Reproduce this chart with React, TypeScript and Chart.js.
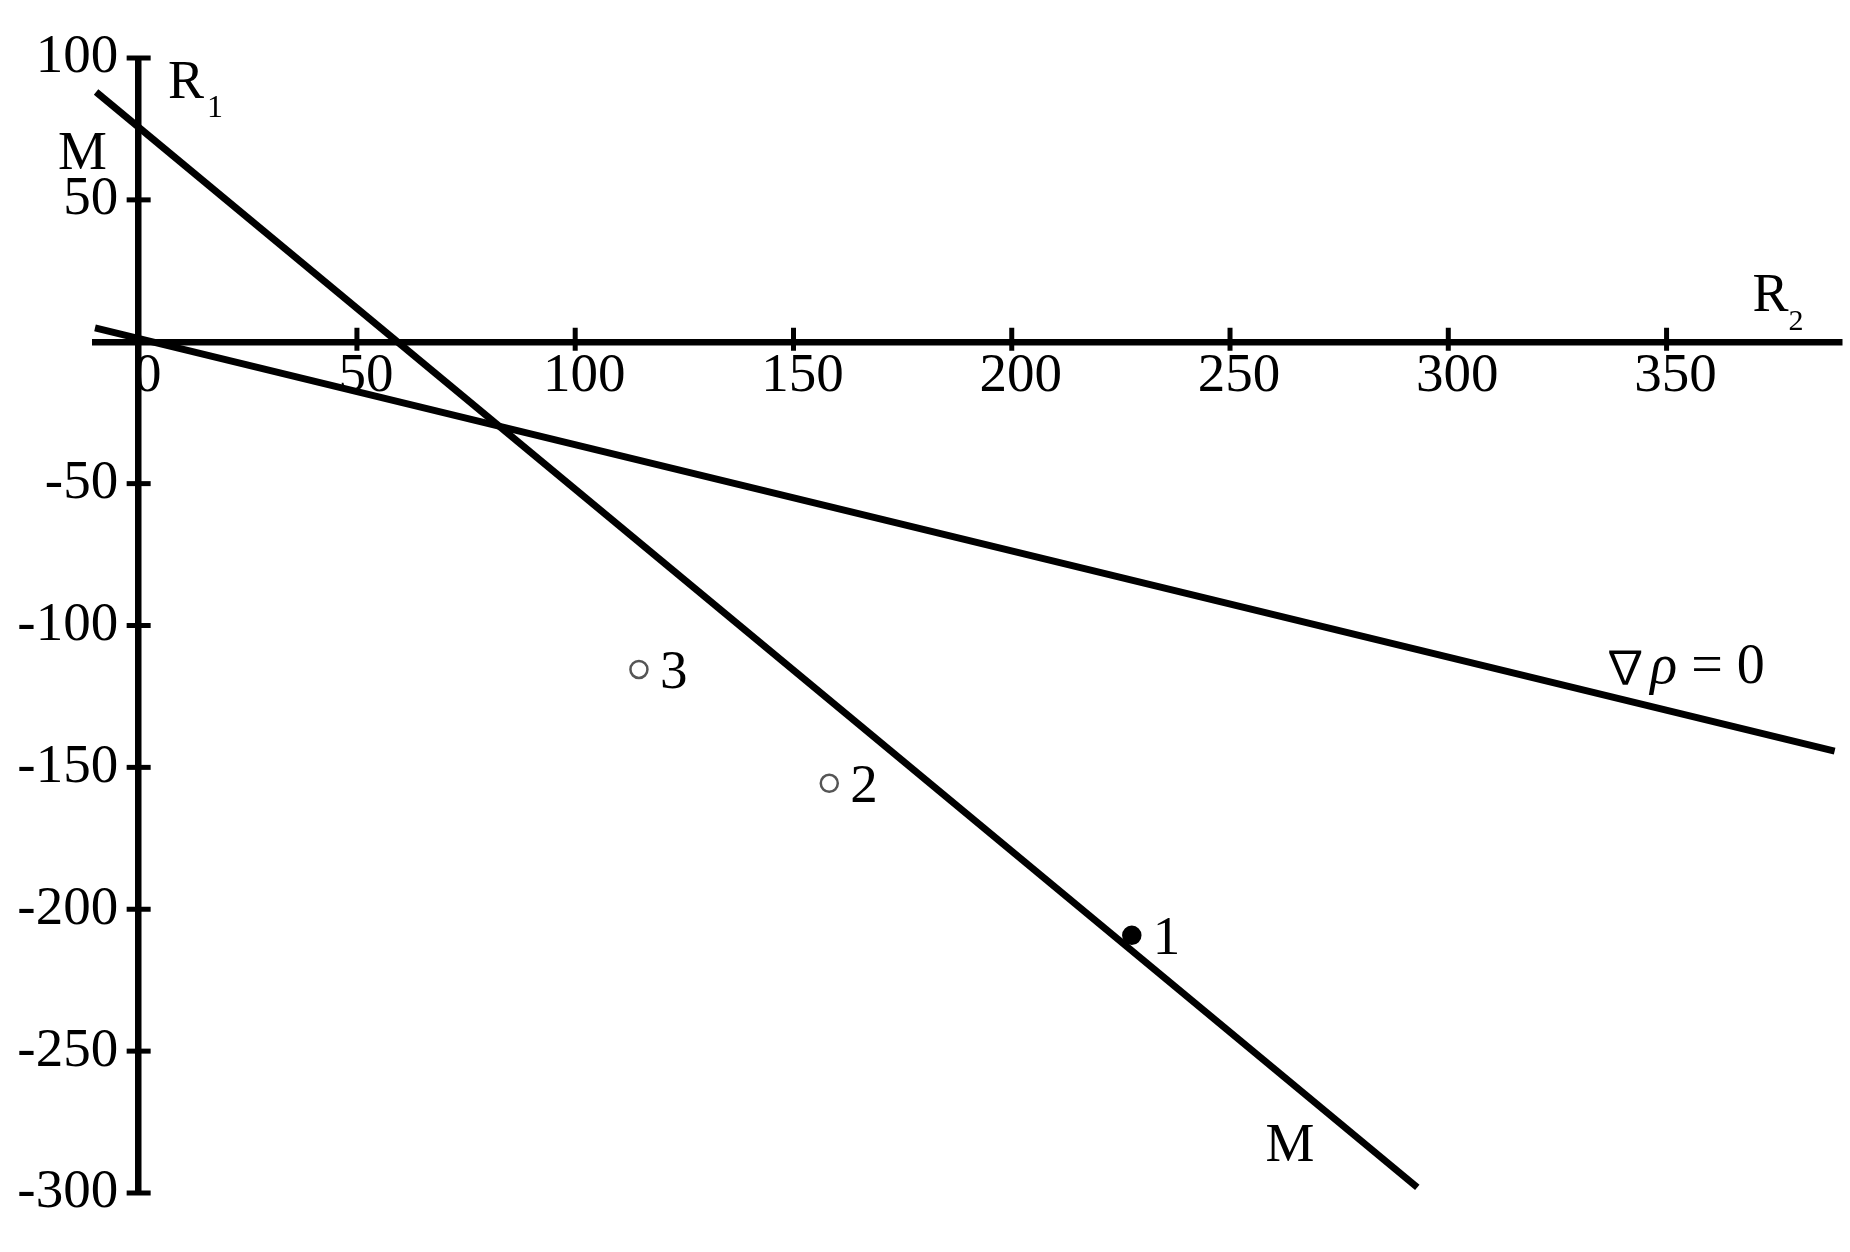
import React, { useEffect, useRef } from 'react';
import { Chart, registerables } from 'chart.js';

Chart.register(...registerables);

// ---- data ----
const xTicks = [0, 50, 100, 150, 200, 250, 300, 350];
const yTicks = [100, 50, -50, -100, -150, -200, -250, -300];

// line "M"
const mLineR2 = [-9.75, 292.9];
const mLineR1 = [88.0, -298.0];

// line "∇ρ = 0"
const gradLineR2 = [-10, 388.5];
const gradLineR1 = [4.9, -144.3];

// numbered points
const pointR2 = [227.5, 158.2, 114.6];
const pointR1 = [-209.2, -155.6, -115.5];
const pointLabels = ['1', '2', '3'];
const pointFilled = [true, false, false];

const SERIF = '"Liberation Serif", "Times New Roman", "DejaVu Serif", serif';
const NABLA_FONT = '"Noto Sans CJK JP", "DejaVu Sans", sans-serif';

type Part = { text: string; size: number; italic?: boolean; dx?: number; dy?: number; family?: string };
type Annotation = { x: number; y: number; parts: Part[] };

// free text labels, anchored in data coordinates (left edge, baseline)
const annotations: Annotation[] = [
  { x: -18.45, y: 61.0, parts: [{ text: 'M', size: 55 }] },
  { x: 258.1, y: -288.8, parts: [{ text: 'M', size: 55 }] },
  { x: 6.7, y: 86.0, parts: [{ text: 'R', size: 54 }, { text: '1', size: 32, dx: 3, dy: 19 }] },
  { x: 369.7, y: 11.0, parts: [{ text: 'R', size: 54 }, { text: '2', size: 30, dx: 0, dy: 19 }] },
  {
    x: 336.2,
    y: -120.1,
    parts: [
      { text: '\u2207', size: 46, family: NABLA_FONT, dx: -4 },
      { text: '\u03C1', size: 56, italic: true, dx: 2 },
      { text: ' = 0', size: 56 },
    ],
  },
];

const axisTicksPlugin = {
  id: 'axisTicks',
  afterDatasetsDraw(chart: any) {
    const { ctx, scales } = chart;
    const xs = scales.x;
    const ys = scales.y;
    const x0 = xs.getPixelForValue(0);
    const y0 = ys.getPixelForValue(0);
    ctx.save();
    ctx.strokeStyle = '#000';
    ctx.lineWidth = 5;
    xTicks.forEach((v) => {
      if (v === 0) return;
      const px = xs.getPixelForValue(v);
      ctx.beginPath();
      ctx.moveTo(px, y0 - 14);
      ctx.lineTo(px, y0 + 9);
      ctx.stroke();
    });
    yTicks.forEach((v) => {
      const py = ys.getPixelForValue(v);
      ctx.beginPath();
      ctx.moveTo(x0 - 12, py);
      ctx.lineTo(x0 + 12, py);
      ctx.stroke();
    });
    ctx.restore();
  },
};

const textPlugin = {
  id: 'textLabels',
  afterDatasetsDraw(chart: any) {
    const { ctx, scales } = chart;
    const xs = scales.x;
    const ys = scales.y;
    ctx.save();
    ctx.fillStyle = '#000';
    ctx.textAlign = 'left';
    ctx.textBaseline = 'alphabetic';
    annotations.forEach((a) => {
      let cx = xs.getPixelForValue(a.x);
      const by = ys.getPixelForValue(a.y);
      a.parts.forEach((p) => {
        ctx.font = `${p.italic ? 'italic ' : ''}${p.size}px ${p.family || SERIF}`;
        cx += p.dx || 0;
        ctx.fillText(p.text, cx, by + (p.dy || 0));
        cx += ctx.measureText(p.text).width;
      });
    });
    // point labels
    const meta = chart.getDatasetMeta(0);
    ctx.font = `55px ${SERIF}`;
    meta.data.forEach((el: any, i: number) => {
      ctx.fillText(pointLabels[i], el.x + 21, el.y + 19);
    });
    ctx.restore();
  },
};

export default function App() {
  const ref = useRef<HTMLCanvasElement | null>(null);

  useEffect(() => {
    if (!ref.current) return;
    const chart = new Chart(ref.current, {
      type: 'scatter',
      data: {
        datasets: [
          {
            label: 'points',
            data: pointR2.map((x, i) => ({ x, y: pointR1[i] })),
            showLine: false,
            pointRadius: 8.5,
            pointBorderWidth: 2.5,
            pointBackgroundColor: pointFilled.map((f) => (f ? '#000' : '#fff')),
            pointBorderColor: pointFilled.map((f) => (f ? '#000' : '#555')),
            clip: false,
          } as any,
          {
            label: 'M',
            data: mLineR2.map((x, i) => ({ x, y: mLineR1[i] })),
            showLine: true,
            borderColor: '#000',
            borderWidth: 7,
            borderCapStyle: 'butt',
            pointRadius: 0,
            clip: false,
          } as any,
          {
            label: '\u2207\u03C1 = 0',
            data: gradLineR2.map((x, i) => ({ x, y: gradLineR1[i] })),
            showLine: true,
            borderColor: '#000',
            borderWidth: 7,
            borderCapStyle: 'butt',
            pointRadius: 0,
            clip: false,
          } as any,
        ],
      },
      options: {
        responsive: false,
        animation: false,
        layout: { padding: { left: 95, right: 10, top: 58, bottom: 59 } },
        plugins: {
          legend: { display: false },
          tooltip: { enabled: false },
        },
        scales: {
          x: {
            type: 'linear',
            min: -10,
            max: 389.5,
            position: { y: 0 } as any,
            afterBuildTicks: (s: any) => {
              s.ticks = xTicks.map((v) => ({ value: v }));
            },
            grid: {
              drawTicks: false,
              lineWidth: 6.5,
              color: (c: any) => (c.tick && c.tick.value === 0 ? '#000' : 'rgba(0,0,0,0)'),
            },
            border: { display: true, color: '#000', width: 6.5 },
            ticks: {
              color: '#000',
              font: { family: SERIF, size: 55 },
              padding: 2,
              labelOffset: 9,
              maxRotation: 0,
              autoSkip: false,
            },
          },
          y: {
            type: 'linear',
            min: -300,
            max: 100,
            position: { x: -4.7 } as any,
            afterBuildTicks: (s: any) => {
              s.ticks = yTicks.map((v) => ({ value: v }));
            },
            grid: { display: false, drawTicks: false },
            border: { display: false },
            ticks: {
              color: '#000',
              font: { family: SERIF, size: 55 },
              padding: 0,
              autoSkip: false,
            },
          },
        },
      } as any,
      plugins: [axisTicksPlugin, textPlugin],
    });
    return () => chart.destroy();
  }, []);

  return (
    <div style={{ position: 'fixed', left: 0, top: 0, width: 1850, height: 1252, background: '#fff' }}>
      <canvas ref={ref} width={1850} height={1252} style={{ display: 'block' }} />
    </div>
  );
}
